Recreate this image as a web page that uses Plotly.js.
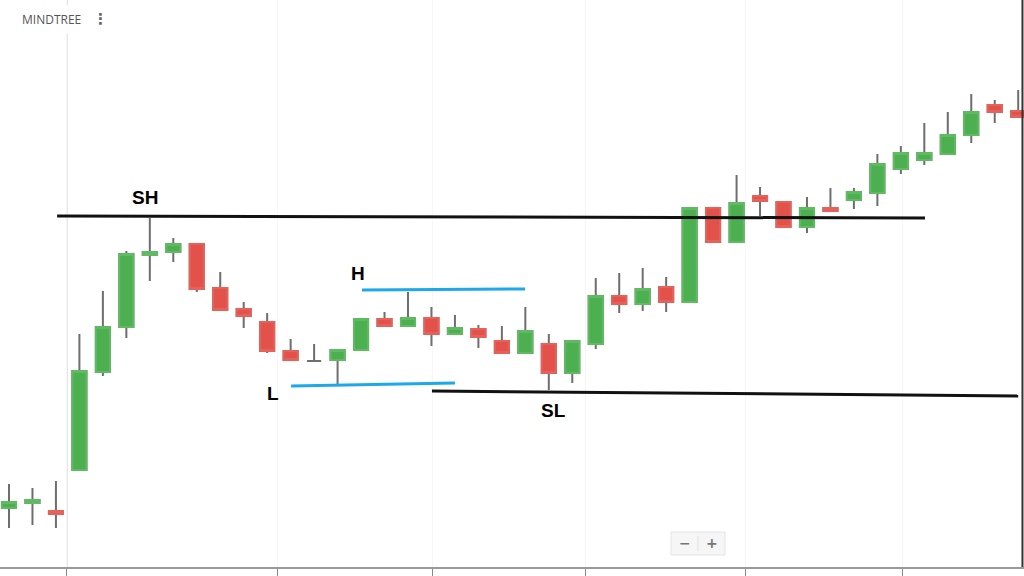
<!DOCTYPE html>
<html>
<head>
<meta charset="utf-8">
<script src="https://cdn.plot.ly/plotly-3.0.1.min.js"></script>
<style>html,body{margin:0;padding:0;background:#fff;}#chart{width:1024px;height:576px;}</style>
</head>
<body>
<div id="chart"></div>
<script>
// ---- data ----
var title = "MINDTREE";
var sessions = [0,1,2,3,4,5,6,7,8,9,10,11,12,13,14,15,16,17,18,19,20,21,22,23,24,25,26,27,28,29,30,31,32,33,34,35,36,37,38,39,40,41,42,43];
var opens  = [746,748.5,744.5,765,814,836.5,872.5,874,878,856,845.5,839,824.5,819.5,820,825,840.5,837,841,833,835.5,829.5,823.5,828,813.5,828,852,848,856.5,849,896,879,902,899,886.5,896,900,903.5,915.5,920,923,932.5,947.5,944.5];
var highs  = [758,756,759.5,833,854.5,874.5,891,881,878,864,849,843.5,830.5,828,825,841,844,854,846.5,842.5,837.5,837,846.5,833,829.5,861,863.5,866,861.5,896,896.5,912.5,906.5,899,901.5,906,906,923,927,938.5,944,953,950,955];
var lows   = [736,737.5,736,765,812,831,859.5,869,854,845,836,823.5,820,819.5,807.5,825,836.5,837,827,833,826,823.5,823.5,805,808.5,825.5,843.5,844.5,844,849,879,879,892,886.5,883.5,894.5,895.5,897,913,917.5,923,928.5,938.5,941.5];
var closes = [749,750,743,814.5,836.5,873,874,878,855.5,845,842,824.5,820,819.5,825,840.5,837,841,833,836,831.5,823.5,834.5,813.5,829.5,852,848,855.5,849,896,879,898.5,899.5,886.5,896,894.5,904,918,923.5,923.5,932.5,944,944,941.5];
var tickPositions = [2.47, 11.46, 18.03, 24.55, 31.37, 38.06];

// drawn levels: [x0, x1, y0, y1]
var levelNames = ["SH", "SL", "H", "L"];
var levelX0 = [2.05, 18.02, 15.04, 12.02];
var levelX1 = [39.03, 43.0, 21.99, 19.0];
var levelY0 = [892, 804.5, 855, 807];
var levelY1 = [891, 802, 855.5, 808.5];
var levelColors = ["#111111", "#111111", "#1ea8ec", "#1ea8ec"];
var labelX = [5.8, 23.18, 14.87, 11.25];
var labelY = [901.5, 795, 863.5, 803.5];

// ---- derived traces ----
var bodyOpen = [], bodyClose = [], bodyHigh = [], bodyLow = [];
for (var i = 0; i < sessions.length; i++) {
  if (opens[i] === closes[i]) { bodyOpen.push(null); bodyClose.push(null); bodyHigh.push(null); bodyLow.push(null); }
  else {
    bodyOpen.push(opens[i]); bodyClose.push(closes[i]);
    bodyHigh.push(Math.max(opens[i], closes[i])); bodyLow.push(Math.min(opens[i], closes[i]));
  }
}

var wicks = {
  type: 'candlestick', x: sessions, open: opens, high: highs, low: lows, close: closes,
  increasing: {line: {color: '#6e6e6e', width: 2}, fillcolor: 'rgba(0,0,0,0)'},
  decreasing: {line: {color: '#6e6e6e', width: 2}, fillcolor: 'rgba(0,0,0,0)'},
  whiskerwidth: 0, hoverinfo: 'skip', showlegend: false
};
var bodies = {
  type: 'candlestick', x: sessions, open: bodyOpen, high: bodyHigh, low: bodyLow, close: bodyClose,
  increasing: {line: {color: '#5fba62', width: 2}, fillcolor: '#4caf50'},
  decreasing: {line: {color: '#e6615a', width: 2}, fillcolor: '#e2524a'},
  whiskerwidth: 0, hoverinfo: 'skip', showlegend: false
};

var shapes = [];
var annotations = [];
for (var k = 0; k < levelNames.length; k++) {
  shapes.push({type: 'line', xref: 'x', yref: 'y', x0: levelX0[k], x1: levelX1[k], y0: levelY0[k], y1: levelY1[k],
    line: {color: levelColors[k], width: 3}});
  annotations.push({xref: 'x', yref: 'y', x: labelX[k], y: labelY[k], text: '<b>' + levelNames[k] + '</b>', showarrow: false,
    font: {family: 'Liberation Sans, Arial, sans-serif', size: 19, color: '#000', weight: 'bold'}, xanchor: 'center', yanchor: 'middle'});
}
// vertical guide at first tick
shapes.push({type: 'line', xref: 'x', yref: 'paper', x0: tickPositions[0], x1: tickPositions[0], y0: 0, y1: 1,
  line: {color: '#dcdcdc', width: 1.5}, layer: 'below'});
// right border
shapes.push({type: 'line', xref: 'paper', yref: 'paper', x0: 0.9985, x1: 0.9985, y0: 0, y1: 1,
  line: {color: '#333', width: 2}});
// zoom widget
shapes.push({type: 'rect', xref: 'paper', yref: 'paper', x0: 671/1024, x1: 725/1024, y0: 1 - 555/567, y1: 1 - 532/567,
  fillcolor: '#f6f6f6', line: {color: '#e4e4e4', width: 1}});
shapes.push({type: 'line', xref: 'paper', yref: 'paper', x0: 698/1024, x1: 698/1024, y0: 1 - 551/567, y1: 1 - 536/567,
  line: {color: '#e0e0e0', width: 1}});
annotations.push({xref: 'paper', yref: 'paper', x: 685/1024, y: 1 - 543/567, text: '<b>−</b>', showarrow: false,
  font: {family: 'DejaVu Sans', size: 14, color: '#777'}, xanchor: 'center', yanchor: 'middle'});
annotations.push({xref: 'paper', yref: 'paper', x: 712/1024, y: 1 - 543/567, text: '<b>+</b>', showarrow: false,
  font: {family: 'DejaVu Sans', size: 14, color: '#777'}, xanchor: 'center', yanchor: 'middle'});
// title
annotations.push({xref: 'paper', yref: 'paper', x: 16/1024, y: 1 - 19/567, text: title, showarrow: false,
  font: {family: 'Open Sans, sans-serif', size: 12, color: '#555'}, xanchor: 'left', yanchor: 'middle',
  bgcolor: '#ffffff', borderpad: 5});
annotations.push({xref: 'paper', yref: 'paper', x: 100/1024, y: 1 - 19/567, text: '<b>⋮</b>', showarrow: false,
  font: {family: 'DejaVu Sans', size: 15, color: '#666'}, xanchor: 'center', yanchor: 'middle'});

var layout = {
  width: 1024, height: 576,
  margin: {l: 0, r: 0, t: 0, b: 9, pad: 0},
  paper_bgcolor: '#ffffff', plot_bgcolor: '#ffffff',
  showlegend: false,
  boxgap: 0.4, boxgroupgap: 0,
  xaxis: {
    type: 'linear', range: [-0.3835, 43.247], rangeslider: {visible: false},
    tickmode: 'array', tickvals: tickPositions, ticktext: tickPositions.map(function(){return '';}),
    ticks: 'outside', ticklen: 8, tickcolor: '#888', tickwidth: 1,
    showline: true, linecolor: '#9a9a9a', linewidth: 2,
    showgrid: true, gridcolor: '#f7f7f7', zeroline: false, fixedrange: true
  },
  yaxis: {
    range: [716.5, 1000], showgrid: false, zeroline: false, showticklabels: false, ticks: '', showline: false, fixedrange: true
  },
  shapes: shapes,
  annotations: annotations
};

Plotly.newPlot('chart', [wicks, bodies], layout, {displayModeBar: false, staticPlot: true});
</script>
</body>
</html>
